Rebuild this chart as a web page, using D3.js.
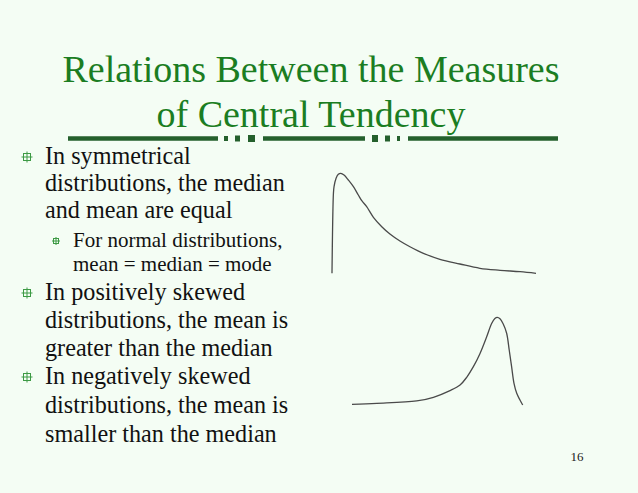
<!DOCTYPE html>
<html>
<head>
<meta charset="utf-8">
<script src="https://cdn.jsdelivr.net/npm/d3@7"></script>
<style>
  html, body { margin: 0; padding: 0; background: #f4fdf4; }
  svg { display: block; }
</style>
</head>
<body>
<div id="slide"></div>
<script>
// slide text
var titleLines = ['Relations Between the Measures', 'of Central Tendency'];
var bulletText = [
  'In symmetrical', 'distributions, the median', 'and mean are equal',
  'For normal distributions,', 'mean = median = mode',
  'In positively skewed', 'distributions, the mean is', 'greater than the median',
  'In negatively skewed', 'distributions, the mean is', 'smaller than the median'
];
var bulletLevel = [1, 1, 1, 2, 2, 1, 1, 1, 1, 1, 1];
var bulletStart = [true, false, false, true, false, true, false, false, true, false, false];
var pageNumber = '16';

// positively skewed curve (x, height) in 0..100 units
var posX = [0, 0.7, 1, 2, 3.1, 4.3, 5.9, 8, 10.5, 12.9, 14.6, 17, 20.3, 24.4, 28.4, 33.3, 38.2, 44.8, 52.9, 62.7, 72.5, 82.4, 92.2, 100];
var posY = [0, 80, 86.6, 95, 99, 100, 98.3, 93.3, 86.6, 78.3, 72.6, 66.6, 56, 46.6, 39.3, 32.3, 26.6, 20, 14, 9.3, 5, 3, 1.6, 0];

// negatively skewed curve
var negX = [0, 14.5, 37.9, 47.7, 57.4, 63.3, 67.2, 71.1, 75, 78.9, 81.8, 83.7, 85.1, 86.7, 88.6, 90.6, 92.1, 93.5, 94.9, 96.5, 98.4, 100];
var negY = [0.8, 1.9, 4.6, 8.8, 16.4, 22.8, 31.6, 43.7, 58.8, 77.8, 93, 98.7, 100, 98.4, 92.4, 81.8, 62.7, 43.7, 24.7, 13.3, 5.7, 0];

(function () {
  var W = 638, H = 493;
  var green = '#1b7d22';
  var serif = '"Liberation Serif", "Times New Roman", Times, serif';

  var svg = d3.select('#slide').append('svg')
    .attr('width', W).attr('height', H);

  svg.append('rect').attr('width', W).attr('height', H).attr('fill', '#f4fdf4');

  // title
  var titleBase = [82, 127];
  svg.selectAll('text.title').data(titleLines).enter()
    .append('text')
    .attr('class', 'title')
    .attr('x', 311)
    .attr('y', function (d, i) { return titleBase[i]; })
    .attr('text-anchor', 'middle')
    .attr('font-family', serif)
    .attr('font-size', 38)
    .attr('fill', green)
    .text(function (d) { return d; });

  // decorative rule under the title
  var rule = [
    [68, 218, 4.5], [224, 228, 5], [235, 240, 6], [248, 255, 7],
    [263, 365, 4.5], [372, 378, 7], [385, 390, 6], [397, 400, 5],
    [408, 558, 4.5]
  ];
  svg.selectAll('rect.rule').data(rule).enter()
    .append('rect')
    .attr('class', 'rule')
    .attr('x', function (d) { return d[0]; })
    .attr('y', function (d) { return 138.5 - d[2] / 2; })
    .attr('width', function (d) { return d[1] - d[0]; })
    .attr('height', function (d) { return d[2]; })
    .attr('fill', '#24602c');

  // bullet text
  var lineBase = [164, 191, 218, 247, 271, 300, 328, 356, 384, 413, 442];
  var textX = { 1: 45, 2: 73 };
  var bulletX = { 1: 27, 2: 56 };
  var fontSize = { 1: 24.2, 2: 21 };

  svg.selectAll('text.body').data(bulletText).enter()
    .append('text')
    .attr('class', 'body')
    .attr('x', function (d, i) { return textX[bulletLevel[i]]; })
    .attr('y', function (d, i) { return lineBase[i]; })
    .attr('font-family', serif)
    .attr('font-size', function (d, i) { return fontSize[bulletLevel[i]]; })
    .attr('fill', '#111')
    .text(function (d) { return d; });

  // bullet glyphs: small square with a cross through it
  var marks = bulletText.map(function (d, i) { return i; }).filter(function (i) { return bulletStart[i]; });
  var glyph = svg.selectAll('g.bullet').data(marks).enter()
    .append('g')
    .attr('class', 'bullet')
    .attr('transform', function (i) {
      var lv = bulletLevel[i];
      return 'translate(' + bulletX[lv] + ',' + (lineBase[i] - (lv === 1 ? 7 : 6)) + ')';
    })
    .attr('stroke', '#3d9a44')
    .attr('stroke-width', 1)
    .attr('fill', 'none');
  glyph.append('rect')
    .attr('x', function (i) { return bulletLevel[i] === 1 ? -3.5 : -2.5; })
    .attr('y', function (i) { return bulletLevel[i] === 1 ? -3.5 : -2.5; })
    .attr('width', function (i) { return bulletLevel[i] === 1 ? 7 : 5; })
    .attr('height', function (i) { return bulletLevel[i] === 1 ? 7 : 5; });
  glyph.append('path')
    .attr('d', function (i) {
      var r = bulletLevel[i] === 1 ? 5.5 : 4;
      return 'M' + (-r) + ',0H' + r + 'M0,' + (-r) + 'V' + r;
    });

  // skewed distribution sketches
  var drawCurve = function (xs, ys, box) {
    var x = d3.scaleLinear().domain([0, 100]).range([box.x0, box.x1]);
    var y = d3.scaleLinear().domain([0, 100]).range([box.y0, box.y1]);
    var line = d3.line()
      .x(function (d) { return x(d[0]); })
      .y(function (d) { return y(d[1]); })
      .curve(d3.curveCatmullRom.alpha(0.5));
    svg.append('path')
      .datum(d3.zip(xs, ys))
      .attr('d', line)
      .attr('fill', 'none')
      .attr('stroke', '#4a4a4a')
      .attr('stroke-width', 1.3)
      .attr('stroke-linejoin', 'round');
  };

  drawCurve(posX, posY, { x0: 332, x1: 536, y0: 273.3, y1: 173.3 });
  drawCurve(negX, negY, { x0: 352, x1: 522.7, y0: 405, y1: 317.3 });

  // page number
  svg.append('text')
    .attr('x', 577)
    .attr('y', 461)
    .attr('text-anchor', 'middle')
    .attr('font-family', serif)
    .attr('font-size', 13)
    .attr('fill', '#222')
    .text(pageNumber);
})();
</script>
</body>
</html>
